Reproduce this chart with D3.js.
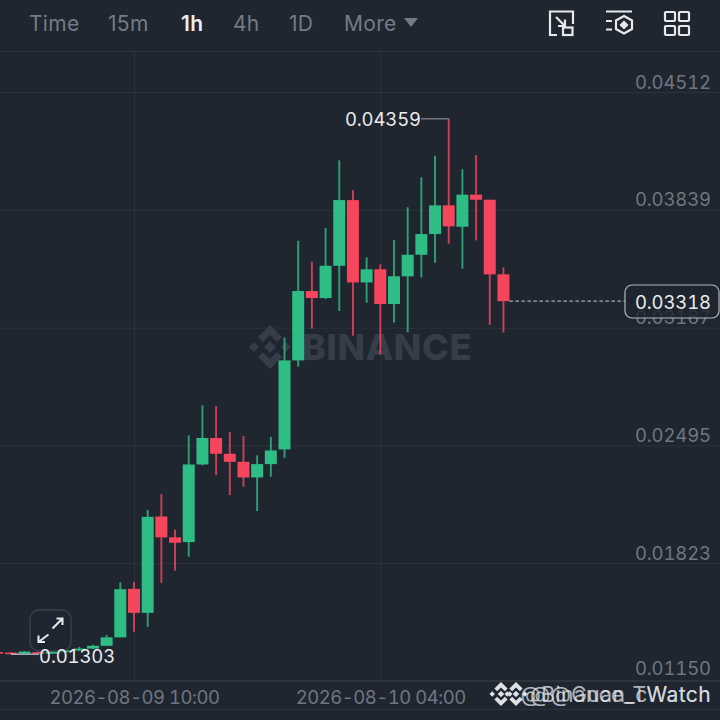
<!DOCTYPE html>
<html><head><meta charset="utf-8">
<style>html,body{margin:0;padding:0;background:#1f2630}svg{display:block}text{font-family:Inter,"Open Sans",sans-serif}.num{font-variant-numeric:tabular-nums}.tick text{font-variant-numeric:tabular-nums}</style>
<script src="https://cdn.jsdelivr.net/npm/d3@7/dist/d3.min.js"></script>
</head><body><svg id="c" width="720" height="720"></svg>
<script>
const startTime = "2026-08-09T00:00:00Z";
const opens  = [.01315,.01312,.01306,.01315,.01306,.01315,.01324,.01335,.01351,.01399,.01676,.01539,.02089,.01970,.01943,.02386,.02537,.02447,.02401,.02312,.02388,.02472,.02980,.03376,.03336,.03520,.03895,.03425,.03500,.03302,.03460,.03583,.03701,.03865,.03743,.03926,.03897,.03471];
const closes = [.01306,.01303,.01318,.01306,.01318,.01324,.01335,.01351,.01399,.01674,.01539,.02087,.01970,.01939,.02386,.02537,.02447,.02401,.02312,.02388,.02466,.02980,.03376,.03336,.03520,.03895,.03425,.03500,.03302,.03460,.03583,.03701,.03865,.03745,.03926,.03897,.03471,.03318];
const highs  = [.01318,.01315,.01321,.01318,.01321,.01327,.01344,.01357,.01412,.01713,.01716,.02127,.02217,.02015,.02552,.02723,.02719,.02571,.02548,.02438,.02544,.03111,.03663,.03543,.03736,.04122,.03952,.03568,.03528,.03667,.03854,.04025,.04148,.04359,.04071,.04152,.03897,.03511];
const lows   = [.01306,.01303,.01306,.01306,.01306,.01312,.01323,.01333,.01351,.01399,.01431,.01459,.01710,.01779,.01859,.02381,.02325,.02211,.02259,.02120,.02316,.02424,.02944,.03161,.03330,.03262,.03121,.03309,.03014,.03197,.03140,.03454,.03537,.03646,.03503,.03665,.03182,.03140];
const priceTicks = [.01150,.01823,.02495,.03167,.03839,.04512];
const timeTicks = ["2026-08-09T10:00:00Z","2026-08-10T04:00:00Z"];
const menuItems = ["Time","15m","1h","4h","1D","More"];
const lastPrice = .03318;

const BG="#1f2630",GRID="#2d333d",UP="#2ebd85",DOWN="#f6465d",DIM="#6f7681";
const svg=d3.select("#c");
svg.append("rect").attr("width",720).attr("height",720).attr("fill",BG);
const t0=new Date(startTime);
const times=opens.map((_,i)=>new Date(+t0+i*3600e3));
const y=d3.scaleLinear().domain([priceTicks[0],priceTicks[5]]).range([681,92]);
const x=d3.scaleUtc().domain([new Date(timeTicks[0]),new Date(timeTicks[1])]).range([134,380.3]);
const fmtP=d3.format(".5f"),fmtT=d3.utcFormat("%Y-%m-%d %H:%M");
const NUM=18.5,LS=-.12;

// grid + axes
const gy=svg.append("g")
  .call(d3.axisRight(y).tickValues(priceTicks).tickSize(720).tickFormat(fmtP));
gy.select(".domain").remove();
gy.selectAll("line").attr("stroke",GRID).attr("stroke-width",1);
gy.selectAll("text").attr("x",711).attr("dy",0).attr("y",(d,i)=>i===0?-7:-4).attr("text-anchor","end")
  .attr("fill",DIM).attr("font-size",NUM).attr("letter-spacing",LS).style("font-family","Inter");
const gx=svg.append("g").attr("transform","translate(0,681)")
  .call(d3.axisBottom(x).tickValues(timeTicks.map(d=>new Date(d))).tickSize(-629).tickFormat(fmtT));
gx.select(".domain").remove();
gx.selectAll("line").attr("stroke",GRID).attr("stroke-width",1);
gx.selectAll("text").attr("y",23).attr("dy",0).attr("fill",DIM).attr("font-size",NUM).attr("letter-spacing",-.5).style("font-family","Inter");
[51.5,680.5,709.5].forEach(v=>svg.append("line").attr("x1",0).attr("x2",720).attr("y1",v).attr("y2",v).attr("stroke",GRID).attr("stroke-width",1.2));

// BINANCE watermark
const wm=svg.append("g").attr("fill","#373d48");
wm.append("text").attr("x",302).attr("y",360).attr("font-size",36).attr("font-weight",800).attr("letter-spacing",.6).text("BINANCE");
function logo(g,cx,cy,s,fill){
  const d=(x0,y0,r)=>`M${cx+x0*s},${cy+(y0-r)*s}L${cx+(x0+r)*s},${cy+y0*s}L${cx+x0*s},${cy+(y0+r)*s}L${cx+(x0-r)*s},${cy+y0*s}Z`;
  const p=g.append("path").attr("fill",fill);
  const chev=`M${cx},${cy-22*s}L${cx+12*s},${cy-10*s}L${cx+7*s},${cy-5*s}L${cx},${cy-12*s}L${cx-7*s},${cy-5*s}L${cx-12*s},${cy-10*s}Z`+
             `M${cx},${cy+22*s}L${cx+12*s},${cy+10*s}L${cx+7*s},${cy+5*s}L${cx},${cy+12*s}L${cx-7*s},${cy+5*s}L${cx-12*s},${cy+10*s}Z`;
  p.attr("d",d(0,0,6)+d(-16,0,5)+d(16,0,5)+chev);
}
logo(wm,270,347,1,"#373d48");

// candles
const candles=svg.append("g").selectAll("g").data(times).join("g");
const col=(_,i)=>closes[i]>=opens[i]?UP:DOWN;
candles.append("line").attr("x1",d=>x(d)).attr("x2",d=>x(d))
  .attr("y1",(_,i)=>y(highs[i])).attr("y2",(_,i)=>y(lows[i])).attr("stroke",col).attr("stroke-width",1.9).attr("stroke-opacity",.82);
candles.append("rect").attr("x",d=>x(d)-6).attr("width",12)
  .attr("y",(_,i)=>y(Math.max(opens[i],closes[i])))
  .attr("height",(_,i)=>Math.max(1.2,Math.abs(y(opens[i])-y(closes[i])))).attr("fill",col);

// expand button
const b=svg.append("g");
b.append("rect").attr("x",30).attr("y",610).attr("width",41).attr("height",41).attr("rx",9).attr("fill","#1f2630").attr("fill-opacity",.75).attr("stroke","#3b414c").attr("stroke-width",1.4);
b.append("path").attr("d","M52.5,628.5L62.5,618.5M56.5,618.5H62.5V625M48.5,634.5L38.5,642M38.5,635.5V642H45").attr("fill","none").attr("stroke","#e4e6ea").attr("stroke-width",2.1);

// high / low markers
const iHi=d3.maxIndex(highs),iLo=d3.minIndex(lows);
svg.append("path").attr("d",`M${x(times[iHi])},${y(highs[iHi])}H421`).attr("stroke","#8b9099").attr("stroke-width",1.2).attr("fill","none");
svg.append("text").attr("class","num").attr("x",421).attr("y",y(highs[iHi])+7).attr("text-anchor","end").attr("fill","#eaecef").attr("font-size",NUM).attr("letter-spacing",LS).text(fmtP(highs[iHi]));
svg.append("path").attr("d",`M${x(times[iLo])},${y(lows[iLo])}H39`).attr("stroke","#c9ccd1").attr("stroke-width",1.2).attr("fill","none");
svg.append("text").attr("class","num").attr("x",39).attr("y",y(lows[iLo])+8.5).attr("fill","#eaecef").attr("font-size",NUM).attr("letter-spacing",LS).text(fmtP(lows[iLo]));

// last price
const ly=y(lastPrice);
svg.append("line").attr("x1",x(times[times.length-1])+6).attr("x2",625).attr("y1",ly).attr("y2",ly).attr("stroke","#a9adb4").attr("stroke-width",1.2).attr("stroke-dasharray","3.5 2.5");
svg.append("rect").attr("x",625).attr("y",285).attr("width",94).attr("height",33).attr("rx",7).attr("fill",BG).attr("fill-opacity",.82).attr("stroke","#b4b7bd").attr("stroke-width",1.2);
svg.append("text").attr("class","num").attr("x",711).attr("y",309).attr("text-anchor","end").attr("fill","#eaecef").attr("font-size",NUM).attr("letter-spacing",LS).text(fmtP(lastPrice));

// header
const menuX=[29,108,181,233,289,344];
svg.append("g").selectAll("text").data(menuItems).join("text")
  .attr("x",(_,i)=>menuX[i]).attr("y",31).attr("font-size",21).attr("letter-spacing",.3)
  .attr("font-weight",d=>d==="1h"?600:400).attr("fill",d=>d==="1h"?"#eaecef":"#747b86").text(d=>d);
svg.append("path").attr("d","M404,18H418L411,27Z").attr("fill","#747b86");
const ic=svg.append("g").attr("fill","none").attr("stroke","#e6e8eb").attr("stroke-width",2.2);
ic.append("path").attr("d","M557,35H550V11.5H573V24M556,17L565,26M565,19.5V26H558");
ic.append("rect").attr("x",563).attr("y",27.5).attr("width",9.5).attr("height",7.5);
ic.append("path").attr("d","M606,11.5H632M606,21H612M606,29.5H612");
ic.append("path").attr("d","M624,16L632,20.5V29L624,33.5L616,29V20.5Z");
ic.append("path").attr("d","M624,22L627,25L624,28L621,25Z").attr("fill","#e6e8eb");
[[665,12],[679,12],[665,26],[679,26]].forEach(p=>ic.append("rect").attr("x",p[0]).attr("y",p[1]).attr("width",10).attr("height",9).attr("rx",1));

// footer watermark
const fw=svg.append("g").attr("fill","#e2e4e8");
logo(fw,501,694,.55,"#dfe1e5");
logo(fw,516,694,.55,"#dfe1e5");
fw.append("text").attr("x",711).attr("y",702).attr("text-anchor","end").attr("font-size",21).attr("letter-spacing",.4).attr("fill-opacity",.75).text("@Binance_TWatch");
fw.append("text").attr("x",711).attr("y",702).attr("text-anchor","end").attr("font-size",21).attr("letter-spacing",.4).attr("fill-opacity",.75).text("@@Guan_cWatch");
</script></body></html>
